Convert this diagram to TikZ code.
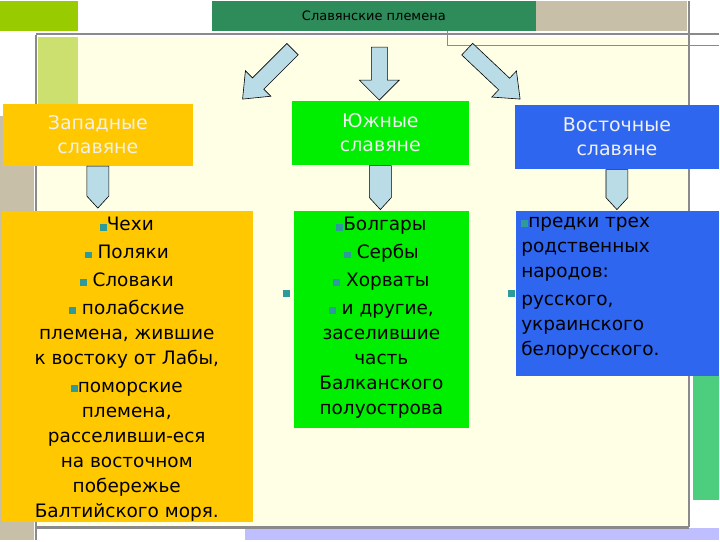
\documentclass[tikz,border=0pt]{standalone}
\usepackage{fontspec}
\setmainfont{DejaVu Sans}
\usetikzlibrary{calc}

\definecolor{paper}{HTML}{FFFFE6}
\definecolor{titlegreen}{HTML}{2E8B5A}
\definecolor{arrowblue}{HTML}{B9DCE6}
\definecolor{westorange}{HTML}{FFC800}
\definecolor{southgreen}{HTML}{00EE00}
\definecolor{eastblue}{HTML}{2F66F0}
\definecolor{bullet}{HTML}{2E9A9A}
\definecolor{frame}{HTML}{8A8A8A}
\definecolor{lime}{HTML}{99CC00}
\definecolor{palelime}{HTML}{CCE070}
\definecolor{tan}{HTML}{C8BFA8}

\newcommand\bul{\textcolor{bullet}{\rule{7pt}{7pt}}}
\newcommand\fatarrow[5]{%
  \filldraw[fatarrow] let \p1=(#1), \p2=(#2),
    \n1={atan2(\y2-\y1,\x2-\x1)}, \n2={veclen(\x2-\x1,\y2-\y1)}, \n3={\n2-#5} in
    ($(\p1)+(\n1+90:#3pt)$) -- ($(\p1)+(\n1:\n3)+(\n1+90:#3pt)$)
    -- ($(\p1)+(\n1:\n3)+(\n1+90:#4pt)$) -- (\p2)
    -- ($(\p1)+(\n1:\n3)+(\n1-90:#4pt)$) -- ($(\p1)+(\n1:\n3)+(\n1-90:#3pt)$)
    -- ($(\p1)+(\n1-90:#3pt)$) -- cycle;}

\tikzset{
  fatarrow/.style={fill=arrowblue,draw=black,line width=0.6pt},
  head/.style={font=\fontsize{19}{24}\selectfont,text=white!88!gray,align=center,inner sep=0pt},
  body/.style={font=\fontsize{18.5}{25}\selectfont,align=center,inner sep=0pt,anchor=north}
}

\begin{document}
\begin{tikzpicture}[x=1pt,y=-1pt]
  % backdrop
  \fill[white] (0,0) rectangle (720,540);
  \fill[paper] (36,36) rectangle (690,527);
  \fill[lime] (0,0) rectangle (78,30);
  \fill[palelime] (38,36) rectangle (78,115);
  \fill[tan] (0,115) rectangle (34,540);
  \fill[tan] (537,0) rectangle (688,30);
  \fill[green!45!teal!70!white] (694,235) rectangle (720,500);
  \fill[blue!25!white] (245,528) rectangle (720,540);
  \draw[frame,line width=2.5pt] (36,34) -- (36,540) (690,0) -- (690,527)
    (36,33) -- (720,33) (36,527) -- (690,527);
  \draw[frame,line width=1pt] (448,44) -- (720,44) (448,30) -- (448,44);

  % boxes
  \node[fill=titlegreen,minimum width=325,minimum height=30,inner sep=0pt,
    font=\fontsize{13}{15}\selectfont] (tribes) at (374.5,15) {Славянские племена};
  \node[fill=westorange,minimum width=190,minimum height=62,head] (west) at (98,134) {Западные\\славяне};
  \node[fill=southgreen,minimum width=177,minimum height=65,head] (south) at (381,132) {Южные\\славяне};
  \node[fill=eastblue,minimum width=205,minimum height=65,head] (east) at (618,136) {Восточные\\славяне};

  \fill[westorange] (2,210) rectangle (253,522);
  \node[body] (westlist) at (127,216) {\bul Чехи\\[3pt] \bul{} Поляки\\[3pt] \bul{} Словаки\\[3pt]
    \bul{} полабские\\ племена, жившие\\ к востоку от Лабы,\\[3pt] \bul поморские\\ племена,\\
    расселивши-еся\\ на восточном\\ побережье\\ Балтийского моря.};
  \fill[southgreen] (295,210) rectangle (470,427);
  \node[body] (southlist) at (382,216) {\bul Болгары\\[3pt] \bul{} Сербы\\[3pt] \bul{} Хорваты\\[3pt]
    \bul{} и другие,\\ заселившие\\ часть\\ Балканского\\ полуострова};
  \fill[eastblue] (517,210) rectangle (720,375);
  \node[body,align=left,anchor=north west] (eastlist) at (522,216) {\bul предки трех\\ родственных\\ народов:\\[3pt]
    русского,\\ украинского\\ белорусского.};
  \node[fill=bullet,inner sep=0pt,minimum size=7pt] (sbul) at (287,293) {};
  \node[fill=bullet,inner sep=0pt,minimum size=7pt] (ebul) at (512,293) {};

  % arrows
  \coordinate (tl) at (293,48); \coordinate (tl2) at (243,98);
  \coordinate (tc) at (380,46); \coordinate (tc2) at (380,99);
  \coordinate (tr) at (468,48); \coordinate (tr2) at (521,98);
  \fatarrow{tl}{tl2}{8}{18}{22}
  \fatarrow{tc}{tc2}{8}{20}{20}
  \fatarrow{tr}{tr2}{8}{18}{22}
  \fatarrow{west.south}{$(west.south)+(0,42)$}{11}{11}{12}
  \fatarrow{south.south}{$(south.south)+(0,44)$}{11}{11}{12}
  \fatarrow{east.south}{$(east.south)+(0,40)$}{11}{11}{12}
\end{tikzpicture}
\end{document}
